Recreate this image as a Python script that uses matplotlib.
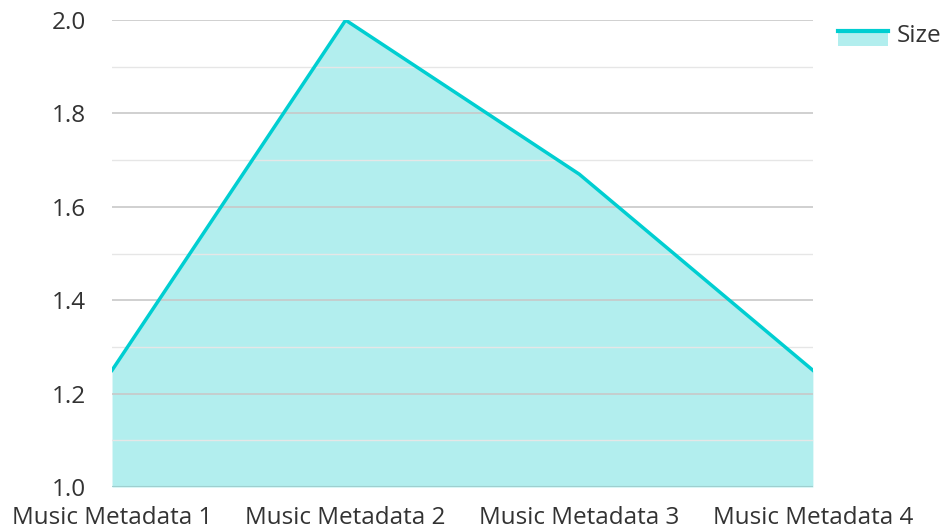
import matplotlib.pyplot as plt
from matplotlib.patches import Rectangle
from matplotlib.lines import Line2D
from matplotlib.legend_handler import HandlerBase

plt.rcParams['font.family'] = ['Open Sans', 'DejaVu Sans']

categories = ['Music Metadata 1', 'Music Metadata 2', 'Music Metadata 3', 'Music Metadata 4']
size = [1.25, 2.0, 1.67, 1.25]

line_col = '#00CED1'
fill_col = '#B2EEEE'


class AreaHandler(HandlerBase):
    def create_artists(self, legend, orig, xd, yd, w, h, fontsize, trans):
        p = Rectangle((-xd, -yd - h * 0.25), w, h * 1.0, facecolor=fill_col, edgecolor='none')
        p.set_transform(trans)
        ln = Line2D([-xd, -xd + w], [-yd + h * 0.65, -yd + h * 0.65], color=line_col, lw=3)
        ln.set_transform(trans)
        return [p, ln]


fig = plt.figure(figsize=(9.43, 5.29), dpi=100)
ax = fig.add_axes([0.1188, 0.0794, 0.862 - 0.1188, 0.962 - 0.0794])

x = list(range(len(categories)))
ax.fill_between(x, 1.0, size, color=fill_col, lw=0, zorder=1)
ax.plot(x, size, color=line_col, lw=2.5, zorder=3)

for v in [1.1, 1.3, 1.5, 1.7, 1.9]:
    ax.axhline(v, color='#e6e6e6', lw=1, zorder=2)
for v in [1.2, 1.4, 1.6, 1.8, 2.0]:
    ax.axhline(v, color='#c8c8c8', lw=1.2, zorder=2)
ax.axhline(1.0, color='#9fcfcf', lw=1.5, zorder=2)

ax.set_xlim(0, 3)
ax.set_ylim(1.0, 2.0)
ax.set_yticks([1.0, 1.2, 1.4, 1.6, 1.8, 2.0])
ax.set_yticklabels(['1.0', '1.2', '1.4', '1.6', '1.8', '2.0'])
ax.set_xticks(x)
ax.set_xticklabels(categories)
ax.tick_params(axis='both', length=0, labelsize=17.5, labelcolor='#333333')
ax.tick_params(axis='y', pad=19)
ax.tick_params(axis='x', pad=14)
for s in ax.spines.values():
    s.set_visible(False)

leg = fig.legend(handles=[Line2D([], [])], labels=['Size'],
                 handler_map={Line2D: AreaHandler()},
                 loc='center left', bbox_to_anchor=(838 / 943, 1 - 36 / 529),
                 frameon=False, fontsize=17.5, handlelength=2.05,
                 handletextpad=0.35, borderaxespad=0, borderpad=0)
for t in leg.get_texts():
    t.set_color('#333333')

fig.savefig('out.png', dpi=100)
